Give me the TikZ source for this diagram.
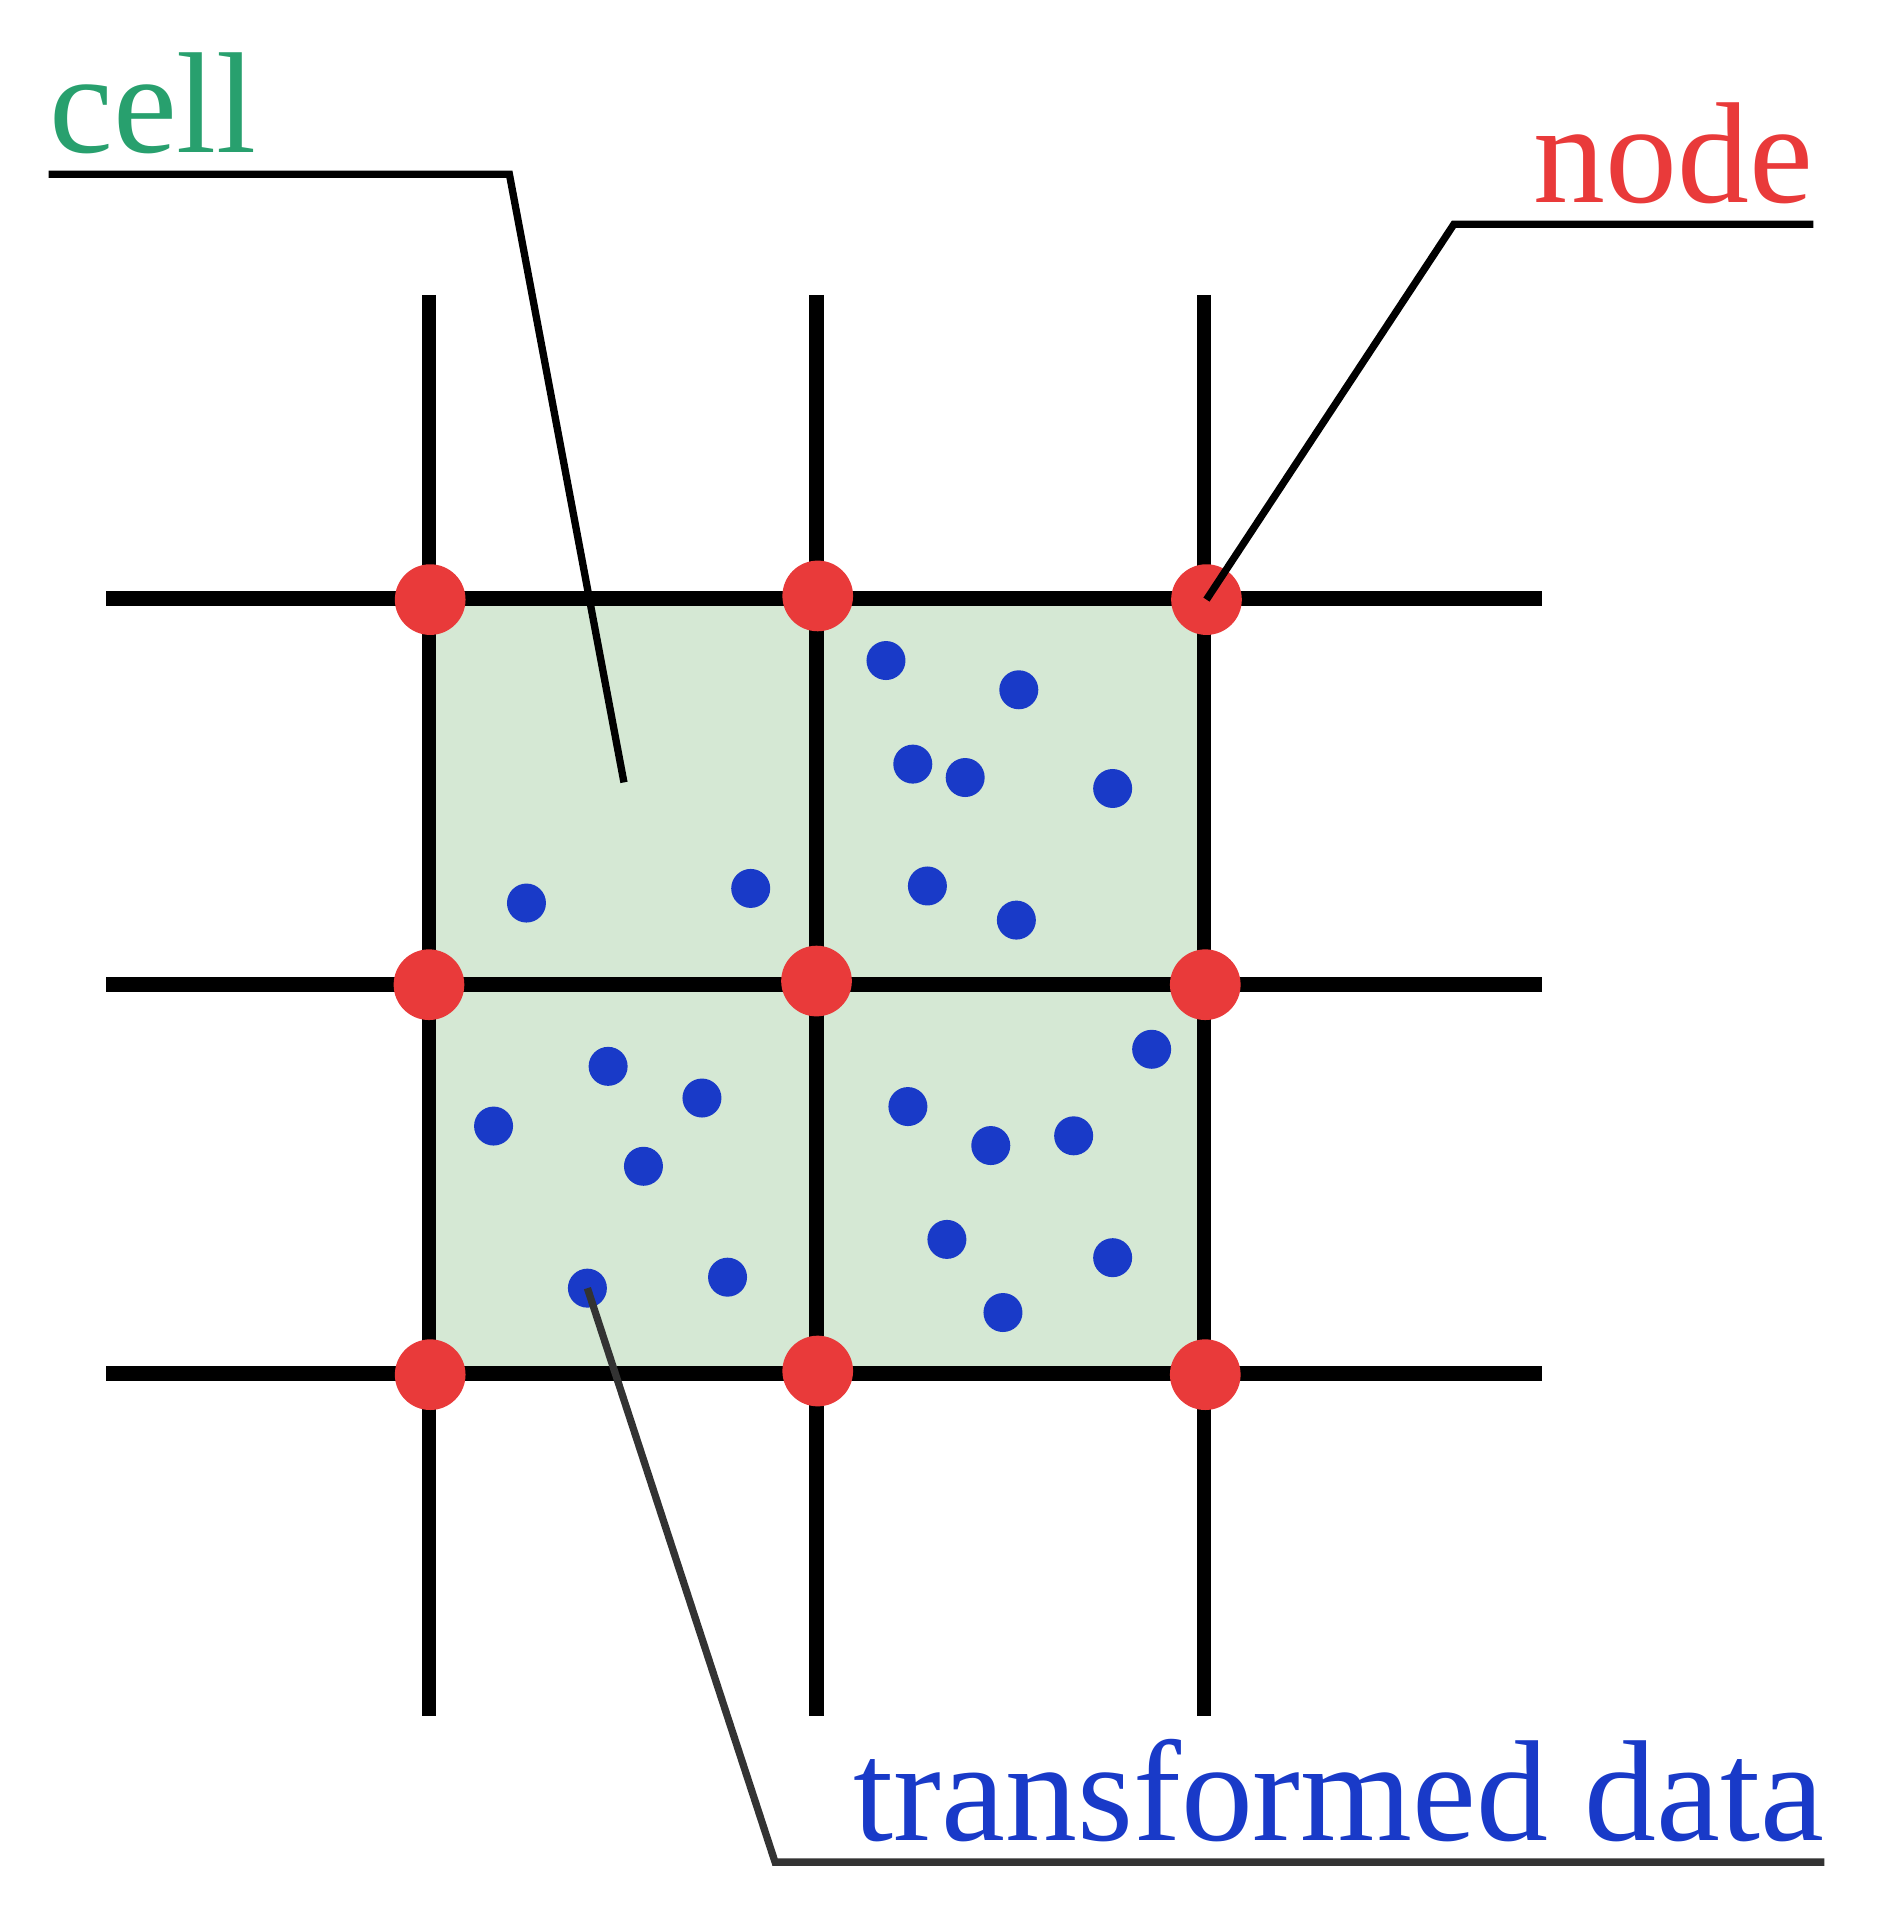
\documentclass[tikz,border=0pt]{standalone}
\usepackage{fontspec}
\setmainfont{Liberation Serif}
\definecolor{gridgreen}{RGB}{213,232,212}
\definecolor{nodered}{RGB}{233,58,58}
\definecolor{dotblue}{RGB}{25,58,200}
\definecolor{cellgreen}{RGB}{40,160,110}
\definecolor{leadgray}{RGB}{51,51,51}
\begin{document}
\begin{tikzpicture}[x=0.5pt,y=-0.5pt,
  gridline/.style={line width=6pt,black},
  gnode/.style={circle,fill=nodered,minimum size=29pt,inner sep=0pt},
  dot/.style={circle,fill=dotblue,minimum size=16pt,inner sep=0pt},
  leader/.style={line width=3pt},
  lbl/.style={font=\fontsize{59}{59}\selectfont,inner sep=0pt}]
\useasboundingbox (0,0) rectangle (1560,1564);
\fill[gridgreen] (352,491) rectangle (988,1127);
\foreach \x in {352,670,988} \draw[gridline] (\x,242) -- (\x,1408);
\foreach \y in {491,808,1127} \draw[gridline] (87,\y) -- (1265,\y);
% dots
\foreach \p [count=\i] in {(432,741),(616,729),(727,542),(836,566),(749,627),(792,638),(913,647),(761,727),(834,755),(499,875),(576,901),(405,924),(528,957),(482,1057),(597,1048),(945,861),(745,908),(813,940),(881,932),(777,1017),(913,1032),(823,1077)}
  \node[dot] (d\i) at \p {};
% grid nodes
\node[gnode] (n00) at (353,492) {};
\node[gnode] (n10) at (671,489) {};
\node[gnode] (n20) at (990,492) {};
\node[gnode] (n01) at (352,808) {};
\node[gnode] (n11) at (670,805) {};
\node[gnode] (n21) at (989,808) {};
\node[gnode] (n02) at (353,1128) {};
\node[gnode] (n12) at (671,1125) {};
\node[gnode] (n22) at (989,1128) {};
% labels
\node[lbl,text=cellgreen,anchor=base west] (tcell) at (40,125) {cell};
\node[lbl,text=nodered,anchor=base east] (tnode) at (1488,166) {node};
\node[lbl,text=dotblue,anchor=base east] (tdata) at (1497,1510) {transformed data};
\coordinate (c1) at (40,143); \coordinate (c2) at (418,143); \coordinate (c3) at (512,642);
\draw[leader] (c1) -- (c2) -- (c3);
\coordinate (k1) at (1488,184); \coordinate (k2) at (1193,184);
\draw[leader] (k1) -- (k2) -- (n20.center);
\coordinate (t1) at (1497,1528); \coordinate (t2) at (636,1528);
\draw[leader,leadgray] (t1) -- (t2) -- (d14.center);
\end{tikzpicture}
\end{document}
